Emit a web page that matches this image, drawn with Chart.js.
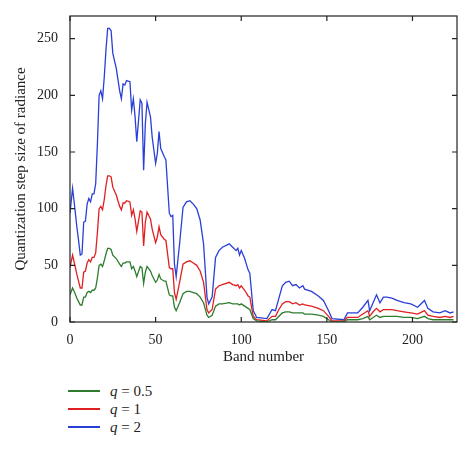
<!DOCTYPE html>
<html><head><meta charset="utf-8">
<script src="https://cdn.jsdelivr.net/npm/chart.js@4/dist/chart.umd.min.js"></script>
<style>
body{margin:0;background:#fff;font-family:"Liberation Serif",serif;}
#wrap{position:relative;width:474px;height:370px;}
#legend{position:absolute;left:68px;top:382px;font-size:15px;color:#222;}
.row{height:18px;display:flex;align-items:center;}
.ln{display:inline-block;width:32px;height:2px;margin-right:10px;}
</style></head><body>
<div id="wrap"><canvas id="c" width="474" height="370"></canvas></div>
<div id="legend">
<div class="row"><span class="ln" style="background:#2e7d2e"></span><span><i>q</i> = 0.5</span></div>
<div class="row"><span class="ln" style="background:#e02020"></span><span><i>q</i> = 1</span></div>
<div class="row"><span class="ln" style="background:#2a3fd6"></span><span><i>q</i> = 2</span></div>
</div>
<script>
const bands=[0,1.5,3,4,5,6,7,8,9,10,11,12,13,14,15,16,17,18,19,20,21,22,23,24,25,27,29,30,31,32,33,35,36,37,38,39,41,42,43,44,45,47,48,50,51,52,53,55,56,58,59,60,61,62,64,66,68,70,72,74,76,78,80,81,83,85,87,89,93,95,97,98,99,100,102,104,105,107,109,115,118,120,122,124,126,128,130,132,134,136,137,141,145,148,151,153,160,162,168,171,174,175,177,179,181,183,185,188,191,195,199,203,207,209,212,216,219,222,224];
const q2=[96,118,98,84,72,59,60,88,89,104,109,106,113,113,122,157,200,204,197,216,240,259,259,257,237,224,204,197,210,209,213,212,187,197,181,159,196,193,134,175,194,181,163,140,149,168,153,146,143,96,93,94,51,40,69,101,106,107,104,100,90,69,22,16,22,57,63,66,69,66,63,65,59,63,56,46,43,10,4,3,11,10,21,32,35,36,32,33,30,32,29,27,23,19,10,3,2,8,8,13,19,10,17,24,17,22,22,21,19,17,16,13,19,12,9,8,10,8,9];
const q1=[48,59,49,42,36,30,30,44,45,52,55,53,57,57,61,79,100,102,99,108,120,129,129,128,119,112,102,99,105,105,107,106,94,99,91,80,98,97,67,88,97,91,82,70,75,84,77,73,72,48,47,47,26,20,35,51,53,54,52,50,45,35,11,8,11,29,32,33,35,33,32,33,30,32,28,23,22,5,2,1,5,5,11,16,18,18,16,17,15,16,15,14,12,10,5,1,1,4,4,7,10,5,9,12,9,11,11,11,10,9,8,7,10,6,5,4,5,4,5];
const q05=[24,30,25,21,18,15,15,22,22,26,27,26,28,28,30,39,50,51,49,54,60,65,65,64,59,56,51,49,52,52,53,53,47,49,45,40,49,48,34,44,49,45,41,35,37,42,38,36,36,24,23,23,13,10,17,25,27,27,26,25,22,17,6,4,6,14,16,16,17,16,16,16,15,16,14,12,11,3,1,0,2,2,5,8,9,9,8,8,8,8,7,7,6,5,2,0,0,2,2,3,5,2,4,6,4,5,5,5,5,4,4,3,5,3,2,2,2,2,2];
const xTicks=[0,50,100,150,200];
const yTicks=[0,50,100,150,200,250];
const pts=a=>bands.map((b,i)=>({x:b,y:a[i]}));
const ds=(d,c)=>({data:pts(d),borderColor:c,borderWidth:1.3,pointRadius:0,tension:0,fill:false});
const frame={id:'frame',afterDraw(ch){const {ctx,chartArea:a,scales:{x,y}}=ch;ctx.save();ctx.strokeStyle='#222';ctx.lineWidth=1.2;ctx.strokeRect(a.left,a.top,a.right-a.left,a.bottom-a.top);
ctx.beginPath();xTicks.forEach(v=>{const p=x.getPixelForValue(v);ctx.moveTo(p,a.bottom);ctx.lineTo(p,a.bottom-5);ctx.moveTo(p,a.top);ctx.lineTo(p,a.top+5);});
yTicks.forEach(v=>{const p=y.getPixelForValue(v);ctx.moveTo(a.left,p);ctx.lineTo(a.left+5,p);ctx.moveTo(a.right,p);ctx.lineTo(a.right-5,p);});ctx.stroke();ctx.restore();}};
const F={family:'"Liberation Serif", serif',size:14};
new Chart(document.getElementById('c'),{type:'line',
data:{datasets:[ds(q05,'#2e7d2e'),ds(q1,'#e02020'),ds(q2,'#2a3fd6')]},
options:{responsive:false,animation:false,layout:{padding:{top:16,right:17,left:8,bottom:0}},
plugins:{legend:{display:false},tooltip:{enabled:false}},
scales:{
x:{type:'linear',min:0,max:226,afterBuildTicks:s=>{s.ticks=xTicks.map(v=>({value:v}));},afterFit:s=>{s.height=48;},
grid:{display:false},border:{display:false},ticks:{color:'#222',font:F,padding:2,maxRotation:0},
title:{display:true,text:'Band number',color:'#222',font:{...F,size:15},padding:{top:4}}},
y:{min:0,max:270,afterBuildTicks:s=>{s.ticks=yTicks.map(v=>({value:v}));},afterFit:s=>{s.width=62;},
grid:{display:false},border:{display:false},ticks:{color:'#222',font:F,padding:4},
title:{display:true,text:'Quantization step size of radiance',color:'#222',font:{...F,size:15},padding:{bottom:2}}}
}},plugins:[frame]});
</script></body></html>
